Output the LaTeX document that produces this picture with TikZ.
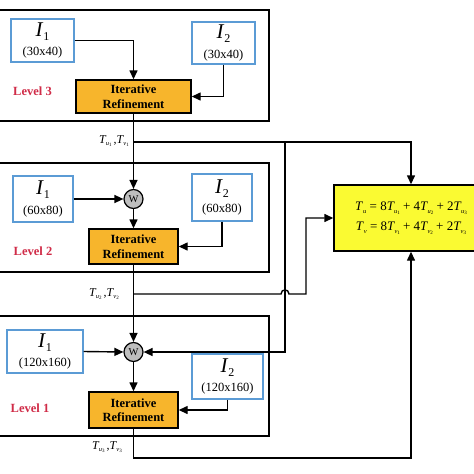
\documentclass[tikz,border=0pt]{standalone}
\usepackage{fontspec}
\setmainfont{Liberation Serif}
\usetikzlibrary{arrows.meta}
\definecolor{boxblue}{HTML}{5B9BD5}
\definecolor{irorange}{HTML}{F7B52C}
\definecolor{eqyellow}{HTML}{FAFA32}
\definecolor{lvlred}{HTML}{D02C48}
\definecolor{wgray}{HTML}{BEBEBE}
\newcommand{\Tsb}[2]{\textit{T}\kern-0.05em\raisebox{-0.45ex}{\fontsize{6.5}{6.5}\selectfont\textit{#1}\raisebox{-0.35ex}{\fontsize{5}{5}\selectfont #2}}}
\newcommand{\Isb}[1]{{\fontsize{21}{21}\selectfont\textit{I}\raisebox{-0.4ex}{\fontsize{12}{12}\selectfont #1}}}
\newcommand{\Dim}[1]{{\fontsize{12.5}{13}\selectfont #1}}
\begin{document}
\begin{tikzpicture}[x=1pt,y=-1pt,
  levelbox/.style={draw=black,line width=1.5pt,inner sep=0pt},
  imgbox/.style={draw=boxblue,line width=1.2pt,fill=white,inner sep=0pt,align=center,font=\fontsize{10}{10}\selectfont},
  irbox/.style={draw=black,line width=1.4pt,fill=irorange,inner sep=0pt,align=center,font=\fontsize{12.5}{14.5}\selectfont\bfseries},
  wnode/.style={circle,draw=black,line width=1.2pt,fill=wgray,minimum size=19pt,inner sep=0pt,font=\fontsize{10.5}{10.5}\selectfont},
  eqbox/.style={draw=black,line width=1.4pt,fill=eqyellow,inner sep=0pt,align=center,font=\fontsize{13}{20}\selectfont},
  conn/.style={line width=1.4pt,-{Triangle[length=9pt,width=8pt]}},
  lvl/.style={text=lvlred,font=\fontsize{12.5}{14}\selectfont\bfseries},
  tlab/.style={font=\fontsize{12}{12}\selectfont,inner sep=0pt,anchor=east}
]
\useasboundingbox (0,0) rectangle (474,474);

% level frames
\node[levelbox,minimum width=272pt,minimum height=111pt] (L3) at (133,65.5) {};
\node[levelbox,minimum width=272pt,minimum height=109pt] (L2) at (133,217.5) {};
\node[levelbox,minimum width=272pt,minimum height=120pt] (L1) at (133,376) {};

% Level 3
\node[imgbox,minimum width=63pt,minimum height=43pt] (i13) at (42.5,40.5) {\Isb{1}\\[6pt]\Dim{(30x40)}};
\node[imgbox,minimum width=63pt,minimum height=42pt] (i23) at (223.5,43) {\Isb{2}\\[6pt]\Dim{(30x40)}};
\node[irbox,minimum width=115pt,minimum height=33pt] (ir3) at (133.5,96.5) {Iterative\\Refinement};
\node[lvl] (lv3) at (32.5,91) {Level 3};

% Level 2
\node[imgbox,minimum width=60pt,minimum height=46pt] (i12) at (43,199) {\Isb{1}\\[6pt]\Dim{(60x80)}};
\node[imgbox,minimum width=60pt,minimum height=47pt] (i22) at (222,197.5) {\Isb{2}\\[6pt]\Dim{(60x80)}};
\node[wnode] (w2) at (133.5,199) {W};
\node[irbox,minimum width=89pt,minimum height=35pt] (ir2) at (133.5,246.5) {Iterative\\Refinement};
\node[lvl] (lv2) at (33,251) {Level 2};

% Level 1
\node[imgbox,minimum width=76pt,minimum height=43pt] (i11) at (45,351.5) {\Isb{1}\\[6pt]\Dim{(120x160)}};
\node[imgbox,minimum width=71pt,minimum height=45pt] (i21) at (227.5,376.5) {\Isb{2}\\[6pt]\Dim{(120x160)}};
\node[wnode] (w1) at (133.5,352) {W};
\node[irbox,minimum width=89pt,minimum height=36pt] (ir1) at (133.5,410) {Iterative\\Refinement};
\node[lvl] (lv1) at (30,408) {Level 1};

% result box
\node[eqbox,minimum width=154pt,minimum height=66pt] (eq) at (411,218)
  {\textit{T}\raisebox{-0.45ex}{\fontsize{6.5}{6.5}\selectfont\textit{u}}\ =\ 8\Tsb{u}{1}\ +\ 4\Tsb{u}{2}\ +\ 2\Tsb{u}{3}\\
   \textit{T}\raisebox{-0.45ex}{\fontsize{6.5}{6.5}\selectfont\textit{v}}\ =\ 8\Tsb{v}{1}\ +\ 4\Tsb{v}{2}\ +\ 2\Tsb{v}{3}};

% coordinates
\coordinate (o3) at (133.5,142);
\coordinate (b3) at (285,142);
\coordinate (o2) at (133.5,294);
\coordinate (h1) at (281,294);
\coordinate (h2) at (289,294);
\coordinate (k2) at (306,294);
\coordinate (o1) at (133.5,458);

% level 3 connectors
\draw[conn] (i13.east) -| (ir3.north);
\draw[conn] (i23.south) |- (ir3.east);
% level 2 connectors
\draw[conn] (ir3.south) -- (w2.north);
\draw[conn] (i12.east) -- (w2.west);
\draw[conn] (w2.south) -- (ir2.north);
\draw[conn] (i22.south) |- (ir2.east);
% level 1 connectors
\draw[conn] (ir2.south) -- (w1.north);
\draw[conn] (i11.east) -- (w1.west);
\draw[conn] (w1.south) -- (ir1.north);
\draw[conn] (i21.south) |- (ir1.east);

% outputs
\draw[conn] (o3) -| (eq.north);
\draw[conn] (b3) |- (w1.east);
\draw[conn] (o2) -- (h1) .. controls (281,288.5) and (289,288.5) .. (h2) -- (k2) |- (eq.west);
\draw[conn] (ir1.south) -- (o1) -| (eq.south);

% output labels
\node[tlab] (t3) at (129,141) {\Tsb{u}{1}\,,\Tsb{v}{1}};
\node[tlab] (t2) at (119,294) {\Tsb{u}{2}\,,\Tsb{v}{2}};
\node[tlab] (t1) at (122,447) {\Tsb{u}{3}\,,\Tsb{v}{3}};
\end{tikzpicture}
\end{document}
